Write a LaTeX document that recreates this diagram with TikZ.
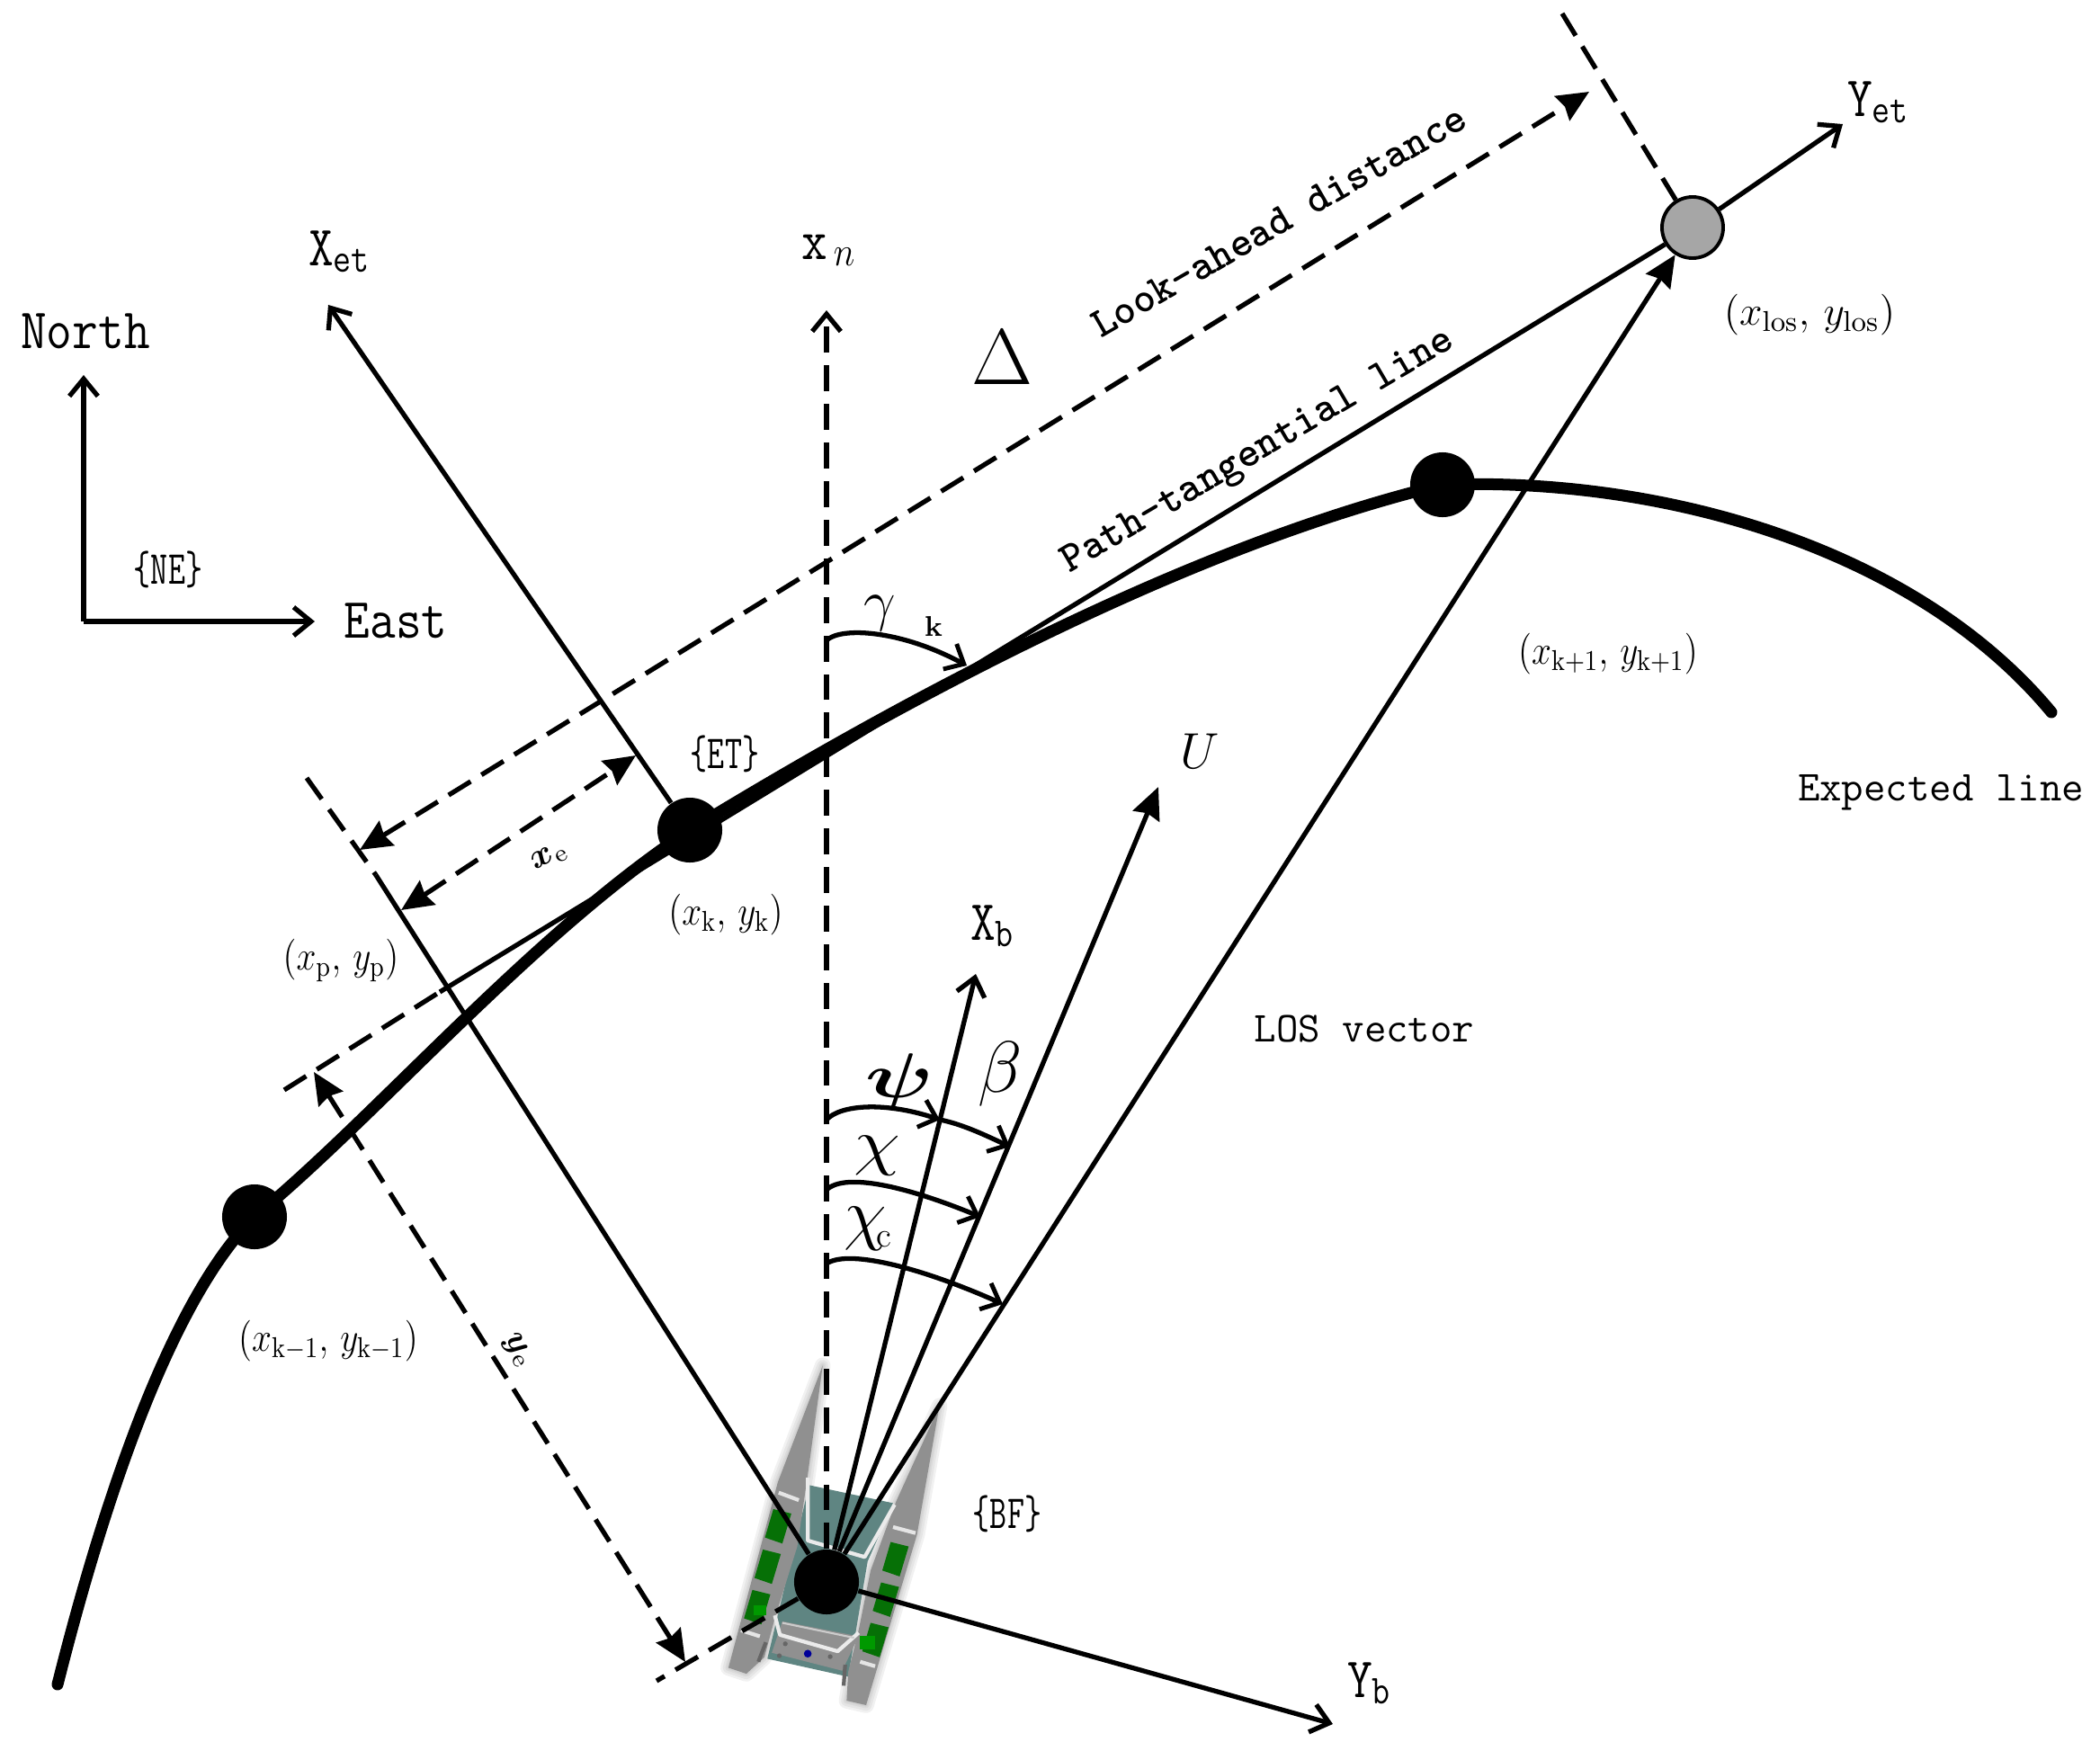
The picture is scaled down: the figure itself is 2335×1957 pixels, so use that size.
\documentclass[tikz,border=0pt]{standalone}
\usepackage{fix-cm}
\usepackage{bm}
\usepackage{graphicx}
\usetikzlibrary{arrows.meta}
\pgfdeclarelayer{background}
\pgfsetlayers{background,main}
\definecolor{hullgray}{HTML}{909090}
\definecolor{deckteal}{HTML}{5F8582}
\definecolor{panelgreen}{HTML}{067006}
\tikzstyle{waypoint} = [circle, fill=black, inner sep=0pt, minimum size=0.72cm]
\tikzstyle{lospoint} = [circle, fill=black!35, draw=black, line width=1.1pt, inner sep=0pt, minimum size=0.68cm]
\tikzstyle{path line} = [draw, line width=3.7pt, line cap=round, line join=round]
\tikzstyle{plain} = [draw, line width=1.5pt]
\tikzstyle{dashline} = [draw, line width=1.5pt, dash pattern=on 8.2pt off 4pt]
\tikzstyle{line} = [plain, -{Straight Barb[length=5.5pt,width=9pt,line width=1.5pt]}]
\tikzstyle{dash arrow} = [dashline, -{Straight Barb[length=5.5pt,width=9pt,line width=1.5pt]}]
\tikzstyle{solid arrow} = [plain, -{Stealth[length=10pt,width=9pt,inset=1pt]}]
\tikzstyle{measure} = [dashline, {Stealth[length=10pt,width=9pt,inset=1pt]}-{Stealth[length=10pt,width=9pt,inset=1pt]}]
\tikzstyle{arc} = [plain, -{Straight Barb[length=5pt,width=9pt,line width=1.4pt]}]
\tikzstyle{texto} = [inner sep=0pt, font=\ttfamily\fontsize{18}{18}\selectfont]
\tikzstyle{small text} = [inner sep=0pt, font=\ttfamily\fontsize{13.5}{14}\selectfont]
\tikzstyle{frame text} = [inner sep=0pt, font=\ttfamily\fontsize{15}{15}\selectfont]
\tikzstyle{bold text} = [inner sep=0pt, font=\ttfamily\bfseries\fontsize{13.5}{14}\selectfont]
\tikzstyle{point} = [inner sep=0pt, font=\fontsize{13}{13}\selectfont]
\tikzstyle{greek} = [inner sep=0pt, font=\fontsize{20}{20}\selectfont]
\newcommand{\waypt}[1]{node (#1) [waypoint] {}}
\newcommand{\narrow}[1]{\scalebox{0.88}[1]{#1}}
\newcommand{\axisname}[2]{\scalebox{0.85}[1]{#1\raisebox{-0.25ex}{\fontsize{13}{13}\selectfont #2}}}
\newcommand{\framename}[1]{\scalebox{0.7}[1]{\{#1\}}}
\newcommand{\coordname}[2][0.86]{\scalebox{#1}[1]{$(x_{\mathrm{#2}},\,y_{\mathrm{#2}})$}}

\begin{document}
\begin{tikzpicture}[x=0.01cm,y=-0.01cm]
\useasboundingbox (0,0) rectangle (2335,1957);

% Draw the vessel under everything else
\begin{pgfonlayer}{background}
\begin{scope}[shift={(780,1480)},x=0.00333cm,y=-0.00333cm]
  \foreach \wd in {5,3.5,2,1}{
    \draw[black!45, opacity=0.12, line width=\wd pt, line join=round]
      (405,115) -- (255,505) -- (90,1125) -- (150,1145) -- (210,1090) -- (320,720) -- (355,480) -- cycle;
    \draw[black!45, opacity=0.12, line width=\wd pt, line join=round]
      (795,250) -- (720,680) -- (550,1250) -- (485,1235) -- (525,1000) -- (565,800) -- (650,570) -- cycle;
  }
  \fill[deckteal] (360,515) -- (640,575) -- (555,770) -- (490,1155) -- (220,1095) -- (310,720) -- cycle;
  \fill[hullgray] (405,115) -- (255,505) -- (90,1125) -- (150,1145) -- (210,1090) -- (245,960) -- (320,720) -- (355,480) -- cycle;
  \fill[hullgray] (795,250) -- (720,680) -- (550,1250) -- (485,1235) -- (490,1140) -- (525,1000) -- (565,800) -- (650,570) -- cycle;
  \fill[hullgray] (270,970) -- (525,1020) -- (470,1135) -- (235,1075) -- cycle;
  % Rails and cross beams
  \draw[black!8, line width=1.2pt, line join=round] (355,490) -- (355,700) -- (545,755) -- (645,580);
  \draw[black!8, line width=1.2pt, line join=round] (245,950) -- (262,1015) -- (455,1070) -- (525,1008);
  \draw[black!20, line width=0.6pt] (270,975) -- (510,1025);
  \draw[black!10, line width=1.2pt] (258,540) -- (325,565);
  \draw[black!10, line width=1.2pt] (640,655) -- (715,675);
  \draw[black!10, line width=1.2pt] (132,1000) -- (195,1020);
  \draw[black!10, line width=1.2pt] (530,1105) -- (580,1120);
  \draw[black!60, line width=1.2pt] (215,1040) -- (190,1105);
  \draw[black!60, line width=1.2pt] (480,1115) -- (475,1185);
  % Solar panels
  \foreach \ax/\ay in {240/595,205/730,170/865,632/705,600/840,565/975}{
    \fill[panelgreen] (\ax,\ay) -- ++(60,15) -- ++(-30,100) -- ++(-58,-20) -- cycle;
  }
  \fill[green!60!black] (175,915) rectangle (215,950);
  \fill[green!60!black] (530,1020) rectangle (580,1065);
  \fill[blue!60!black] (355,1078) circle (13);
  \fill[black!60] (280,1045) circle (8);
  \fill[black!60] (260,1085) circle (8);
  \fill[black!60] (430,1088) circle (8);
\end{scope}
\end{pgfonlayer}

% Free ends of the connectors
\coordinate (northtip) at (93,417);
\coordinate (neorigin) at (93,691);
\coordinate (easttip)  at (350,691);
\coordinate (xettip)   at (365,339);
\coordinate (xntip)    at (919,345);
\coordinate (xbtip)    at (1085,1083);
\coordinate (utip)     at (1288,875);
\coordinate (ybtip)    at (1482,1917);
\coordinate (yettip)   at (2049,138);
\coordinate (ybend)    at (730,1869);
\coordinate (perptop)  at (341,865);
\coordinate (perpmid)  at (418,973);
\coordinate (tanstart) at (316,1212);
\coordinate (tanmid)   at (489,1103);
\coordinate (lostop)   at (1737,15);
\coordinate (pathstart) at (64,1873);
\coordinate (pathend)   at (2281,792);

% Draw way points
\path (283,1353)  \waypt{wpprev};
\path (767,923)   \waypt{wpk};
\path (1604,539)  \waypt{wpnext};
\path (919,1759)  \waypt{boat};
\path (1882,253) node (los) [lospoint] {};

% Draw the expected line
\path [path line] (pathstart) .. controls (110,1690) and (185,1450) .. (wpprev.center)
  .. controls (420,1240) and (590,1040) .. (wpk.center)
  .. controls (1050,750) and (1350,600) .. (wpnext.center)
  .. controls (1850,530) and (2130,610) .. (pathend);

% Draw reference frames
\path [line] (neorigin) -- (easttip);
\path [line] (neorigin) -- (northtip);
\path [line] (wpk) -- (xettip);
\path [dash arrow] (boat) -- (xntip);
\path [line] (boat) -- (xbtip);
\path [solid arrow] (boat) -- (utip);
\path [line] (boat) -- (ybtip);
\path [dashline] (boat) -- (ybend);
\path [solid arrow] (boat) -- (los);
\path [line] (los) -- (yettip);

% Draw construction lines
\path [plain] (boat) -- (perpmid);
\path [dashline] (perptop) -- (perpmid);
\path [plain] (tanmid) -- (los);
\path [dashline] (tanstart) -- (tanmid);
\path [dashline] (lostop) -- (los);

% Draw measures between the frames
\coordinate (xeleft)  at (446,1012);
\coordinate (xeright) at (707,840);
\coordinate (lookleft)  at (400,945);
\coordinate (lookright) at (1767,102);
\coordinate (yeup)   at (349,1192);
\coordinate (yedown) at (762,1848);
\path [measure] (xeleft) -- (xeright);
\path [measure] (lookleft) -- (lookright);
\path [measure] (yeup) -- (yedown);

% Draw angles
\coordinate (psiend) at (1045,1245);
\path [arc] (919,712) .. controls (935,697) and (1000,700) .. (1075,740);
\path [arc] (919,1245) .. controls (935,1228) and (985,1225) .. (psiend);
\path [arc] (psiend) .. controls (1070,1250) and (1095,1262) .. (1123,1275);
\path [arc] (919,1323) .. controls (940,1303) and (1010,1320) .. (1090,1353);
\path [arc] (919,1405) .. controls (945,1388) and (1030,1412) .. (1115,1450);

% Draw texts
\node (northlbl) [texto] at (95,368) {\narrow{North}};
\node (eastlbl)  [texto] at (440,690) {\narrow{East}};
\node (nelbl)    [frame text] at (187,633) {\framename{NE}};
\node (xetlbl)   [texto] at (377,280) {\axisname{X}{et}};
\node (yetlbl)   [texto] at (2088,114) {\axisname{Y}{et}};
\node (xblbl)    [texto] at (1103,1030) {\axisname{X}{b}};
\node (yblbl)    [texto] at (1522,1872) {\axisname{Y}{b}};
\node (xnlbl)    [texto] at (921,278) {\narrow{x\raisebox{-0.25ex}{\fontsize{13}{13}\selectfont$\,n$}}};
\node (ulbl)     [inner sep=0pt, font=\fontsize{16}{16}\selectfont] at (1334,835) {$U$};
\node (etlbl)    [frame text] at (806,838) {\framename{ET}};
\node (bflbl)    [frame text] at (1120,1683) {\framename{BF}};
\node (explbl)   [small text] at (2158,881) {Expected line};
\node (loslbl)   [small text] at (1517,1144) {LOS vector};
\node (looklbl)  [bold text, rotate=30] at (1422,246) {Look-ahead distance};
\node (tanlbl)   [bold text, rotate=30.5] at (1400,503) {Path-tangential line};
\node (deltalbl) [inner sep=0pt, font=\fontsize{25}{25}\selectfont] at (1114,397) {$\Delta$};
\node (xelbl)    [inner sep=0pt, font=\fontsize{11}{11}\selectfont, rotate=28] at (611,953) {$\bm{x}_{\mathrm{e}}$};
\node (yelbl)    [inner sep=0pt, font=\fontsize{11}{11}\selectfont, rotate=-60] at (575,1502) {$\bm{y}_{\mathrm{e}}$};
\node (loscoord)  [point] at (2012,350) {\coordname[1]{los}};
\node (kcoord)    [point] at (807,1017) {\coordname{k}};
\node (pcoord)    [point] at (379,1068) {\coordname{p}};
\node (prevcoord) [point] at (365,1491) {\coordname{k-1}};
\node (nextcoord) [point] at (1788,727) {\coordname{k+1}};
\node (psilbl)  [greek] at (1000,1203) {\scalebox{1.35}[1]{$\bm{\psi}$}};
\node (betalbl) [inner sep=0pt, font=\fontsize{23}{23}\selectfont] at (1112,1194) {$\beta$};
\node (chilbl)  [greek] at (975,1285) {\scalebox{1.2}[1]{$\chi$}};
\node (chiclbl) [inner sep=0pt, font=\fontsize{22}{22}\selectfont] at (965,1366) {$\chi$\kern-0.15em\raisebox{-0.35ex}{\fontsize{11}{11}\selectfont c}};
\node (gammalbl) [inner sep=0pt, font=\fontsize{18}{18}\selectfont] at (978,682) {$\gamma$};
\node (klbl)    [inner sep=0pt, font=\bfseries\fontsize{9}{9}\selectfont] at (1038,697) {k};
\end{tikzpicture}
\end{document}
